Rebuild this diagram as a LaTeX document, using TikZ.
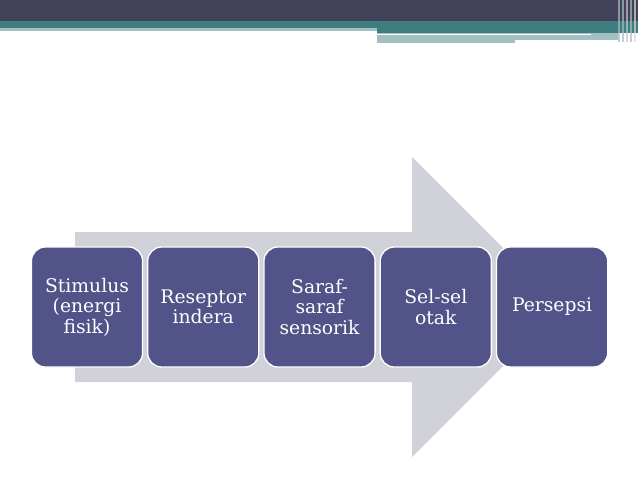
\documentclass[tikz,border=0pt]{standalone}
\usepackage{fontspec}
\setmainfont{DejaVu Serif}
\usetikzlibrary{positioning}

\definecolor{bandDark}{HTML}{414259}
\definecolor{bandTeal}{HTML}{3E7E80}
\definecolor{bandLight}{HTML}{A2C0C2}
\definecolor{arrowGray}{HTML}{D1D1D9}
\definecolor{boxFill}{HTML}{525388}

\begin{document}
\begin{tikzpicture}[
  x=0.03cm, y=-0.03cm,
  stepbox/.style={draw=white, line width=1.1pt, rounded corners=12pt, fill=boxFill,
                  minimum width=3.3cm, minimum height=3.6cm, text width=3.1cm,
                  align=center, text=white, font=\fontsize{16}{17.5}\selectfont},
  node distance=0.115cm,
]
  \useasboundingbox[fill=white] (0,0) rectangle (638,478);
  % title bands along the top
  \fill[bandDark] (0,0) rectangle (638,21);
  \fill[bandTeal] (0,21) rectangle (638,28);
  \fill[bandLight] (0,28) rectangle (377,31);
  \fill[bandTeal] (377,28) rectangle (638,33);
  \fill[bandLight] (377,33) rectangle (618,40);
  \fill[white] (377,33.8) rectangle (591,35.4);
  \fill[bandLight] (377,40) rectangle (515,43);
  \foreach \sx/\sc in {618/white!60!bandDark, 622/bandLight, 626/white!70!bandDark, 630/bandLight, 634/white!80!bandDark}
    \fill[\sc, opacity=0.7] (\sx,0) rectangle ++(2,42);
  % the big arrow behind the steps
  \fill[arrowGray] (75,232) -- (412,232) -- (412,157) -- (562,307)
                   -- (412,457) -- (412,382) -- (75,382) -- cycle;
  % the five steps, left to right
  \node[stepbox] (stim) at (87,307) {Stimulus\\(energi\\fisik)};
  \node[stepbox, right=of stim] (resep) {Reseptor\\indera};
  \node[stepbox, right=of resep] (saraf) {Saraf-\\saraf\\sensorik};
  \node[stepbox, right=of saraf] (otak) {Sel-sel\\otak};
  \node[stepbox, right=of otak] (pers) {Persepsi};
\end{tikzpicture}
\end{document}
